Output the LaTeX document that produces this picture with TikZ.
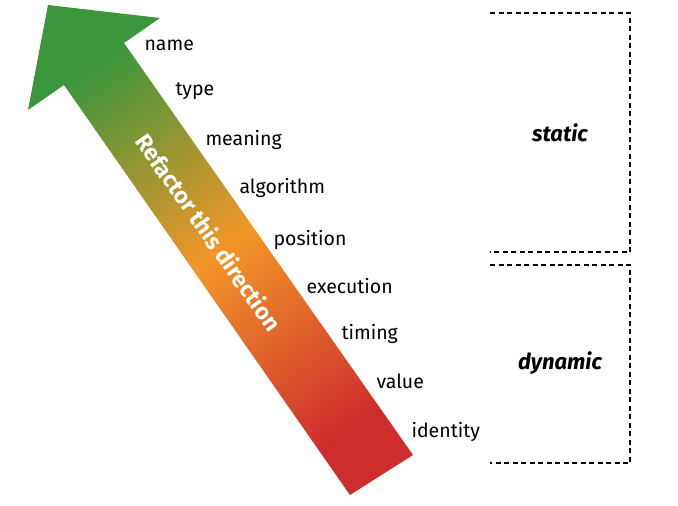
\documentclass[tikz,border=0pt]{standalone}
\usepackage{fontspec}
\setmainfont{Fira Sans}
\definecolor{ag}{RGB}{60,150,60}
\definecolor{ao}{RGB}{242,150,40}
\definecolor{ar}{RGB}{205,45,45}
\pgfdeclareverticalshading{arrshade}{100bp}{color(0bp)=(ar); color(25bp)=(ar); color(50bp)=(ao); color(75bp)=(ag); color(100bp)=(ag)}
\begin{document}
\begin{tikzpicture}[x=1pt,y=-1pt,
  lbl/.style={anchor=west,font=\fontsize{19.5}{22}\selectfont},
  br/.style={dash pattern=on 5pt off 3.5pt,line width=1.1pt},
  big/.style={font=\fontsize{22}{25}\selectfont\bfseries\itshape}]
\useasboundingbox (0,0) rectangle (678,506);
\shade[shading=arrshade, shading angle=35]
  (350,495) -- (413,455) -- (124,43) -- (160,18) -- (48,5) -- (28,110) -- (64,85) -- cycle;
\node[text=white, rotate=-55, font=\fontsize{23}{26}\selectfont\bfseries] (arr) at (209,232) {Refactor this direction};
\node[lbl] (n1) at (141,45) {name};
\node[lbl] (n2) at (172,91) {type};
\node[lbl] (n3) at (202,140) {meaning};
\node[lbl] (n4) at (236,188) {algorithm};
\node[lbl] (n5) at (270,240) {position};
\node[lbl] (n6) at (303,286) {execution};
\node[lbl] (n7) at (338,334) {timing};
\node[lbl] (n8) at (373,381) {value};
\node[lbl] (n9) at (408,432) {identity};
\draw[br] (490,13) -- (630,13) -- (630,252) -- (490,252);
\draw[br] (490,265) -- (630,265) -- (630,463) -- (490,463);
\node[big] (s) at (560,133) {static};
\node[big] (d) at (560,363) {dynamic};
\end{tikzpicture}
\end{document}
